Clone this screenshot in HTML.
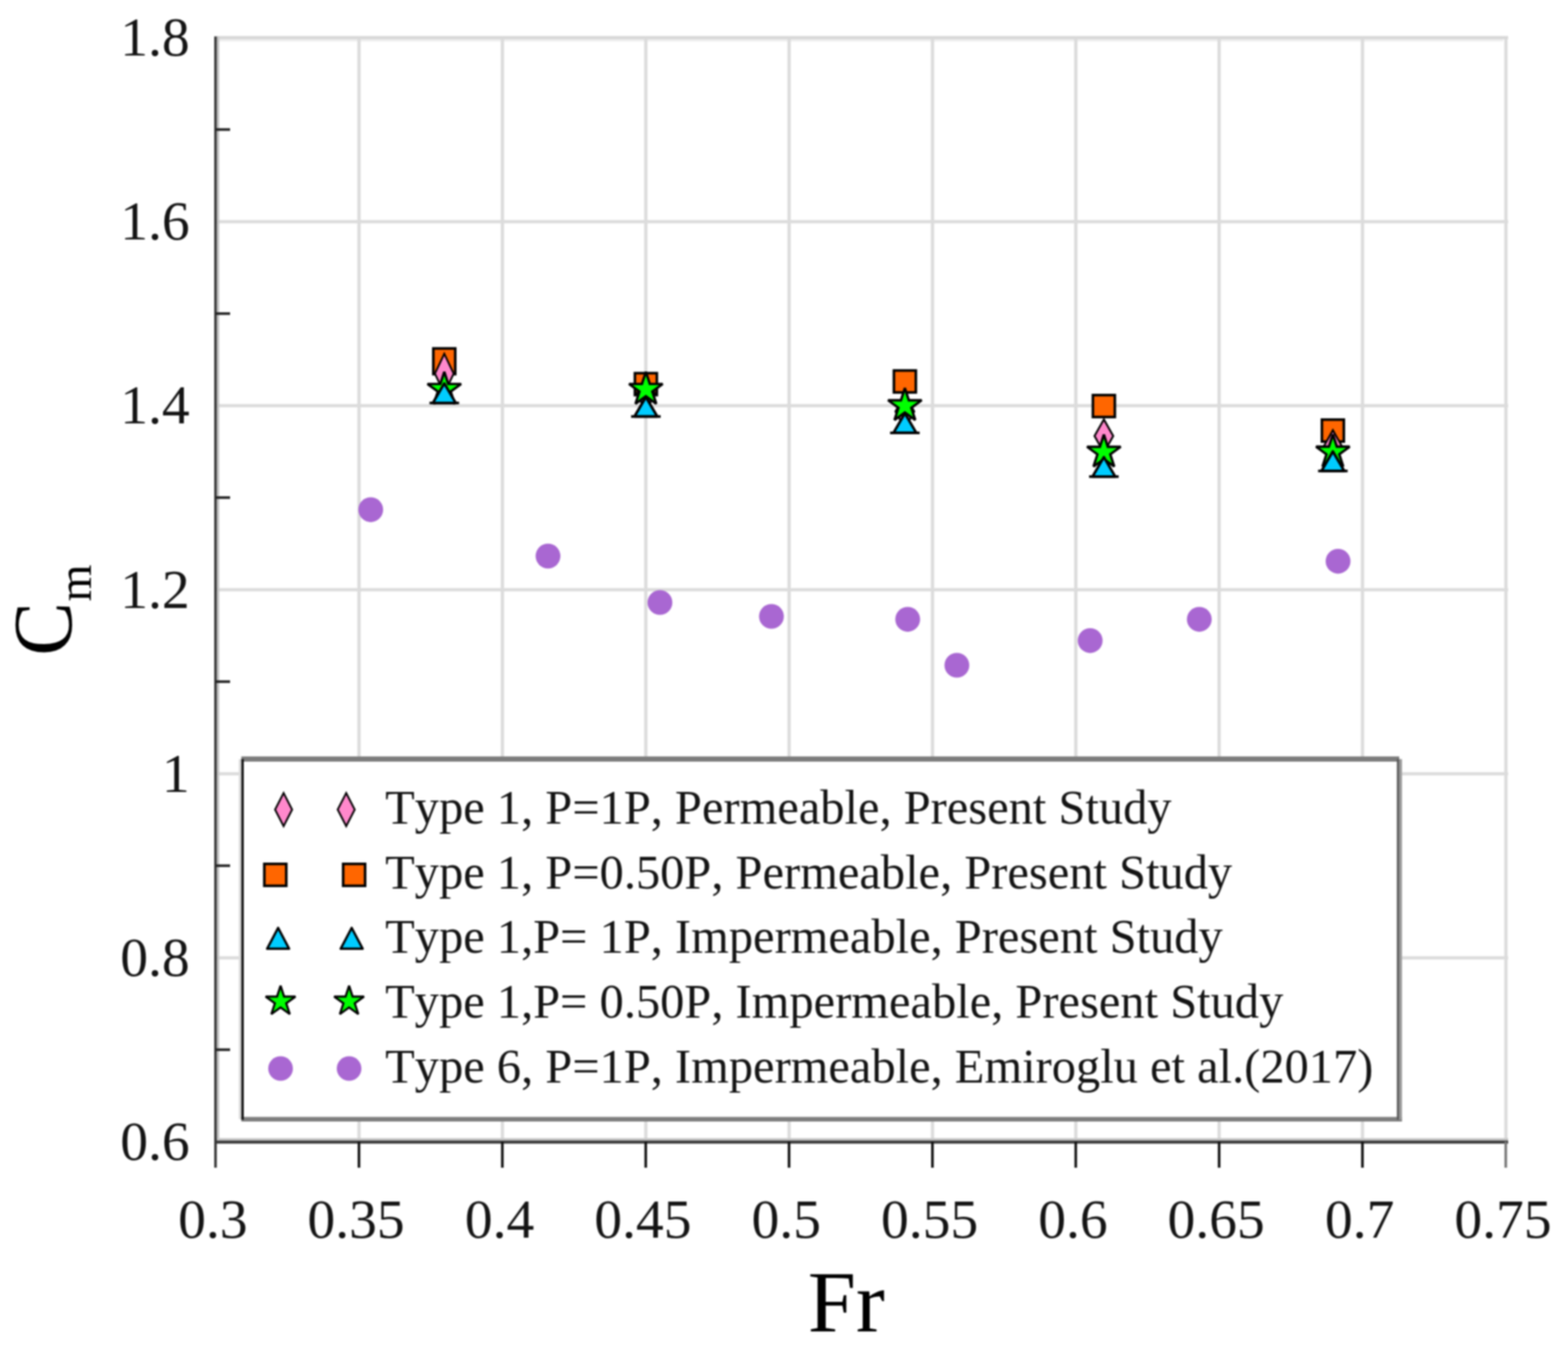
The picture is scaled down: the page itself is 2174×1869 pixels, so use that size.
<!DOCTYPE html>
<html><head><meta charset="utf-8"><title>Cm vs Fr</title>
<style>
html,body{margin:0;padding:0;background:#fff;width:2174px;height:1869px;overflow:hidden}
svg{display:block}
text{font-family:"Liberation Serif","Times New Roman",serif;fill:#141414}
#wrap{filter:blur(1px)}
.t{font-size:77px}
.lg{font-kerning:none;font-size:67.2px}
.ti{font-size:120px;fill:#000}
.sub{font-size:66px;fill:#000}
</style></head><body><div id="wrap">
<svg width="2174" height="1869" viewBox="0 0 2174 1869">
<rect width="2174" height="1869" fill="#fff"/>
<rect x="300" y="54" width="1784" height="3.5" fill="#efefef"/>
<rect x="495.5" y="50.5" width="4.6" height="1530.5" fill="#dcdcdc"/>
<rect x="694.3" y="50.5" width="4.6" height="1530.5" fill="#dcdcdc"/>
<rect x="893.1" y="50.5" width="4.6" height="1530.5" fill="#dcdcdc"/>
<rect x="1091.8" y="50.5" width="4.6" height="1530.5" fill="#dcdcdc"/>
<rect x="1290.6" y="50.5" width="4.6" height="1530.5" fill="#dcdcdc"/>
<rect x="1489.3" y="50.5" width="4.6" height="1530.5" fill="#dcdcdc"/>
<rect x="1688.0" y="50.5" width="4.6" height="1530.5" fill="#dcdcdc"/>
<rect x="1886.8" y="50.5" width="4.6" height="1530.5" fill="#dcdcdc"/>
<rect x="2085.6" y="50.5" width="4.6" height="1530.5" fill="#dcdcdc"/>
<rect x="300" y="1325.8" width="1791" height="4.5" fill="#dcdcdc"/>
<rect x="300" y="1070.6" width="1791" height="4.5" fill="#dcdcdc"/>
<rect x="300" y="815.4" width="1791" height="4.5" fill="#dcdcdc"/>
<rect x="300" y="560.2" width="1791" height="4.5" fill="#dcdcdc"/>
<rect x="300" y="305.1" width="1791" height="4.5" fill="#dcdcdc"/>
<rect x="300" y="49.9" width="1791" height="4.5" fill="#dcdcdc"/>
<rect x="300" y="50.5" width="1791" height="3.6" fill="#d8d8d8"/>
<rect x="300.6" y="50.5" width="3.4" height="1530" fill="#c4c4c4"/>
<rect x="299" y="1578" width="1792" height="3.4" fill="#c8c8c8"/>
<rect x="297" y="50.5" width="3.6" height="1568.5" fill="#383838"/>
<rect x="297" y="1581.4" width="1794" height="4.2" fill="#383838"/>
<rect x="495.9" y="1583" width="3.6" height="36" fill="#111"/>
<rect x="694.7" y="1583" width="3.6" height="36" fill="#111"/>
<rect x="893.5" y="1583" width="3.6" height="36" fill="#111"/>
<rect x="1092.2" y="1583" width="3.6" height="36" fill="#111"/>
<rect x="1291.0" y="1583" width="3.6" height="36" fill="#111"/>
<rect x="1489.7" y="1583" width="3.6" height="36" fill="#111"/>
<rect x="1688.5" y="1583" width="3.6" height="36" fill="#111"/>
<rect x="1887.2" y="1583" width="3.6" height="36" fill="#111"/>
<rect x="2085.9" y="1583" width="3.6" height="36" fill="#777"/>
<rect x="299" y="1453.6" width="20" height="3.6" fill="#222"/>
<rect x="299" y="1198.5" width="20" height="3.6" fill="#222"/>
<rect x="299" y="943.3" width="20" height="3.6" fill="#222"/>
<rect x="299" y="688.1" width="20" height="3.6" fill="#222"/>
<rect x="299" y="433.0" width="20" height="3.6" fill="#222"/>
<rect x="299" y="177.8" width="20" height="3.6" fill="#222"/>
<text x="263" y="1608.0" text-anchor="end" class="t">0.6</text>
<text x="263" y="1352.8" text-anchor="end" class="t">0.8</text>
<text x="263" y="1097.7" text-anchor="end" class="t">1</text>
<text x="263" y="842.5" text-anchor="end" class="t">1.2</text>
<text x="263" y="587.3" text-anchor="end" class="t">1.4</text>
<text x="263" y="332.2" text-anchor="end" class="t">1.6</text>
<text x="263" y="77.0" text-anchor="end" class="t">1.8</text>
<text x="295.0" y="1716" text-anchor="middle" class="t">0.3</text>
<text x="493.7" y="1716" text-anchor="middle" class="t">0.35</text>
<text x="692.5" y="1716" text-anchor="middle" class="t">0.4</text>
<text x="891.3" y="1716" text-anchor="middle" class="t">0.45</text>
<text x="1090.0" y="1716" text-anchor="middle" class="t">0.5</text>
<text x="1288.8" y="1716" text-anchor="middle" class="t">0.55</text>
<text x="1487.5" y="1716" text-anchor="middle" class="t">0.6</text>
<text x="1686.2" y="1716" text-anchor="middle" class="t">0.65</text>
<text x="1885.0" y="1716" text-anchor="middle" class="t">0.7</text>
<text x="2083.8" y="1716" text-anchor="middle" class="t">0.75</text>
<text x="1120" y="1846" class="ti">Fr</text>
<g transform="translate(99,909) rotate(-90)"><text x="0" y="0" class="ti" style="font-size:116px" transform="scale(0.96,1)">C</text><text x="75" y="27" class="sub">m</text></g>
<rect x="334.6" y="1049" width="1609.1999999999998" height="506" fill="#fff"/>
<rect x="331" y="1052.6" width="3.6" height="499" fill="#dedede"/>
<rect x="334.6" y="1048.8" width="1605.4" height="7.2" fill="#7c7c7c"/>
<rect x="334.6" y="1548.6" width="1609.1999999999998" height="6.4" fill="#7e7e7e"/>
<rect x="334.6" y="1052.5" width="3.4" height="500" fill="#111"/>
<rect x="1936.7" y="1052.5" width="3.2" height="500" fill="#5a5a5a"/>
<rect x="1939.9" y="1052.5" width="3.9" height="500" fill="#9a9a9a"/>
<rect x="600.8" y="483.1" width="30.4" height="35.6" fill="#ff6600" stroke="#000" stroke-width="3.6"/>
<rect x="880.3" y="517.4" width="30.4" height="30.4" fill="#ff6600" stroke="#000" stroke-width="3.6"/>
<rect x="1239.4" y="513.7" width="30.4" height="30.4" fill="#ff6600" stroke="#000" stroke-width="3.6"/>
<rect x="1515.3" y="547.8" width="30.4" height="30.4" fill="#ff6600" stroke="#000" stroke-width="3.6"/>
<rect x="1832.8" y="581.8" width="30.4" height="30.4" fill="#ff6600" stroke="#000" stroke-width="3.6"/>
<path d="M616.0 490.5L629.0 518.0L616.0 545.5L603.0 518.0Z" fill="#ff88cc" stroke="#000" stroke-width="2.6" stroke-linejoin="miter"/>
<path d="M895.5 523.0L908.5 546.0L895.5 569.0L882.5 546.0Z" fill="#ff88cc" stroke="#000" stroke-width="2.6" stroke-linejoin="miter"/>
<path d="M1254.6 547.5L1267.6 570.5L1254.6 593.5L1241.5 570.5Z" fill="#ff88cc" stroke="#000" stroke-width="2.6" stroke-linejoin="miter"/>
<path d="M1530.5 581.5L1543.5 604.5L1530.5 627.5L1517.5 604.5Z" fill="#ff88cc" stroke="#000" stroke-width="2.6" stroke-linejoin="miter"/>
<path d="M1848.0 596.5L1861.0 619.5L1848.0 642.5L1835.0 619.5Z" fill="#ff88cc" stroke="#000" stroke-width="2.6" stroke-linejoin="miter"/>
<polygon points="616.0,515.5 621.5,532.4 639.3,532.4 624.9,542.9 630.4,559.8 616.0,549.3 601.6,559.8 607.1,542.9 592.7,532.4 610.5,532.4" fill="#00ff00" stroke="#000" stroke-width="3.4" stroke-linejoin="miter" stroke-miterlimit="2"/>
<polygon points="895.5,515.5 901.0,532.4 918.8,532.4 904.4,542.9 909.9,559.8 895.5,549.3 881.1,559.8 886.6,542.9 872.2,532.4 890.0,532.4" fill="#00ff00" stroke="#000" stroke-width="3.4" stroke-linejoin="miter" stroke-miterlimit="2"/>
<polygon points="1254.6,538.1 1260.1,555.0 1277.9,555.0 1263.5,565.5 1269.0,582.4 1254.6,571.9 1240.2,582.4 1245.7,565.5 1231.3,555.0 1249.1,555.0" fill="#00ff00" stroke="#000" stroke-width="3.4" stroke-linejoin="miter" stroke-miterlimit="2"/>
<polygon points="1530.5,602.6 1536.0,619.5 1553.8,619.5 1539.4,630.0 1544.9,646.9 1530.5,636.4 1516.1,646.9 1521.6,630.0 1507.2,619.5 1525.0,619.5" fill="#00ff00" stroke="#000" stroke-width="3.4" stroke-linejoin="miter" stroke-miterlimit="2"/>
<polygon points="1848.0,602.4 1853.5,619.3 1871.3,619.3 1856.9,629.8 1862.4,646.7 1848.0,636.2 1833.6,646.7 1839.1,629.8 1824.7,619.3 1842.5,619.3" fill="#00ff00" stroke="#000" stroke-width="3.4" stroke-linejoin="miter" stroke-miterlimit="2"/>
<path d="M616.0 531.7L631.8 558.7L600.2 558.7Z" fill="#00ccff" stroke="#000" stroke-width="3.6" stroke-linejoin="round"/><rect x="595.5" y="556.9" width="41.0" height="3.6" fill="#000"/>
<path d="M895.5 550.5L911.3 577.5L879.7 577.5Z" fill="#00ccff" stroke="#000" stroke-width="3.6" stroke-linejoin="round"/><rect x="875.0" y="575.7" width="41.0" height="3.6" fill="#000"/>
<path d="M1254.6 573.2L1270.4 600.2L1238.8 600.2Z" fill="#00ccff" stroke="#000" stroke-width="3.6" stroke-linejoin="round"/><rect x="1234.1" y="598.4" width="41.0" height="3.6" fill="#000"/>
<path d="M1530.5 633.8L1546.3 660.8L1514.7 660.8Z" fill="#00ccff" stroke="#000" stroke-width="3.6" stroke-linejoin="round"/><rect x="1510.0" y="659.0" width="41.0" height="3.6" fill="#000"/>
<path d="M1848.0 626.0L1863.8 653.0L1832.2 653.0Z" fill="#00ccff" stroke="#000" stroke-width="3.6" stroke-linejoin="round"/><rect x="1827.5" y="651.2" width="41.0" height="3.6" fill="#000"/>
<circle cx="514.0" cy="706.7" r="17.2" fill="#a967d2"/>
<circle cx="759.8" cy="771.0" r="17.2" fill="#a967d2"/>
<circle cx="915.0" cy="835.4" r="17.2" fill="#a967d2"/>
<circle cx="1069.6" cy="854.6" r="17.2" fill="#a967d2"/>
<circle cx="1258.5" cy="858.7" r="17.2" fill="#a967d2"/>
<circle cx="1326.7" cy="922.4" r="17.2" fill="#a967d2"/>
<circle cx="1511.5" cy="888.2" r="17.2" fill="#a967d2"/>
<circle cx="1662.8" cy="858.7" r="17.2" fill="#a967d2"/>
<circle cx="1855.2" cy="778.2" r="17.2" fill="#a967d2"/>
<path d="M393.2 1099.5L405.0 1122.5L393.2 1145.5L381.4 1122.5Z" fill="#ff88cc" stroke="#000" stroke-width="2.6" stroke-linejoin="miter"/>
<path d="M480.0 1099.5L491.8 1122.5L480.0 1145.5L468.2 1122.5Z" fill="#ff88cc" stroke="#000" stroke-width="2.6" stroke-linejoin="miter"/>
<rect x="366.5" y="1197.8" width="30.4" height="30.4" fill="#ff6600" stroke="#000" stroke-width="3.6"/>
<rect x="475.8" y="1197.8" width="30.4" height="30.4" fill="#ff6600" stroke="#000" stroke-width="3.6"/>
<path d="M385.6 1286.4L400.9 1315.4L370.3 1315.4Z" fill="#00ccff" stroke="#000" stroke-width="3.2" stroke-linejoin="round"/>
<path d="M487.6 1286.4L502.9 1315.4L472.3 1315.4Z" fill="#00ccff" stroke="#000" stroke-width="3.2" stroke-linejoin="round"/>
<polygon points="389.0,1366.7 393.9,1381.8 409.7,1381.8 396.9,1391.1 401.8,1406.1 389.0,1396.8 376.2,1406.1 381.1,1391.1 368.3,1381.8 384.1,1381.8" fill="#00ff00" stroke="#000" stroke-width="3.0" stroke-linejoin="miter" stroke-miterlimit="2"/>
<polygon points="484.0,1366.7 488.9,1381.8 504.7,1381.8 491.9,1391.1 496.8,1406.1 484.0,1396.8 471.2,1406.1 476.1,1391.1 463.3,1381.8 479.1,1381.8" fill="#00ff00" stroke="#000" stroke-width="3.0" stroke-linejoin="miter" stroke-miterlimit="2"/>
<circle cx="389.0" cy="1481.5" r="17.1" fill="#a967d2"/>
<circle cx="484.0" cy="1481.5" r="17.1" fill="#a967d2"/>
<text x="534" y="1141.8" class="lg">Type 1, P=1P, Permeable, Present Study</text>
<text x="534" y="1231.6" class="lg">Type 1, P=0.50P, Permeable, Present Study</text>
<text x="534" y="1321.3999999999999" class="lg">Type 1,P= 1P, Impermeable, Present Study</text>
<text x="534" y="1411.1999999999998" class="lg">Type 1,P= 0.50P, Impermeable, Present Study</text>
<text x="534" y="1501.0" class="lg">Type 6, P=1P, Impermeable, Emiroglu et al.(2017)</text>
</svg>
</div></body></html>
